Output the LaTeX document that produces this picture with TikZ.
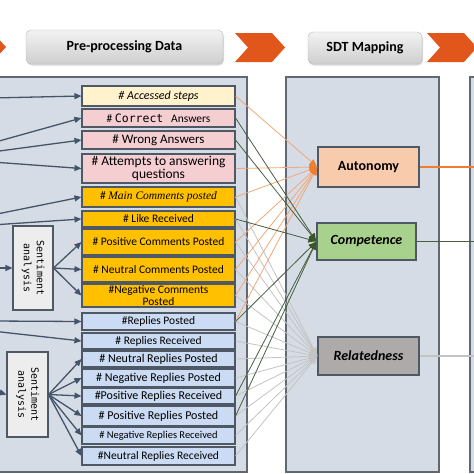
\documentclass[tikz,border=0pt]{standalone}
\usepackage{fontspec}
\usepackage{graphicx}
\setmainfont{Carlito}
\newfontfamily\monof{DejaVu Sans Mono}
\newfontfamily\timesf{Liberation Serif}
\usetikzlibrary{arrows.meta,shadows}

\definecolor{panelfill}{HTML}{D6DCE5}
\definecolor{panelline}{HTML}{5F6873}
\definecolor{boxline}{HTML}{4F5966}
\definecolor{chev}{HTML}{E0561B}
\definecolor{accfill}{HTML}{FFF2CC}
\definecolor{ansfill}{HTML}{F5CED2}
\definecolor{comfill}{HTML}{FFC000}
\definecolor{repfill}{HTML}{CADBF3}
\definecolor{sentfill}{HTML}{EDEDED}
\definecolor{autfill}{HTML}{F8CBAD}
\definecolor{cmpfill}{HTML}{A9D18E}
\definecolor{relfill}{HTML}{AEAAAA}
\definecolor{arrowdark}{HTML}{44546A}
\definecolor{orline}{HTML}{F2A878}
\definecolor{ortip}{HTML}{ED7D31}
\definecolor{grline}{HTML}{46603E}
\definecolor{grtip}{HTML}{385723}
\definecolor{gyline}{HTML}{C3C3C3}

\tikzset{
  panel/.style={draw=panelline, line width=1.6pt, fill=panelfill},
  headbox/.style={draw=gray!55, rounded corners=5pt, top color=gray!10, bottom color=gray!38,
    drop shadow={shadow xshift=1pt, shadow yshift=-1.5pt, opacity=.3},
    inner sep=0pt, font=\fontsize{14}{16}\selectfont\bfseries},
  chevron/.style={fill=chev},
  featbox/.style={draw=boxline, line width=1.1pt, minimum width=153pt, inner sep=0pt,
    align=center, font=\fontsize{11.5}{12}\selectfont},
  sentbox/.style={draw=boxline, line width=1.1pt, fill=sentfill, inner sep=0pt,
    font=\fontsize{10}{13}\selectfont\monof},
  sdtbox/.style={draw=boxline, line width=1.2pt, inner sep=0pt, font=\fontsize{14}{16}\selectfont\bfseries},
  inarrow/.style={draw=arrowdark, line width=1.3pt, -{Triangle[length=7pt,width=6pt]}},
  toaut/.style={draw=orline, line width=0.8pt, -{Latex[length=8pt,width=7pt,color=ortip]}},
  tocmp/.style={draw=grline, line width=0.8pt, -{Latex[length=8pt,width=7pt,color=grtip]}},
  torel/.style={draw=gyline, line width=0.8pt, -{Latex[length=8pt,width=7pt,color=gyline]}},
  outline/.style={line width=1.1pt},
}

\begin{document}
\begin{tikzpicture}[x=1pt,y=-1pt]
  \useasboundingbox (0,0) rectangle (474,474);
  %%%%% HEADER %%%%%
  \fill[chevron] (-20,33) -- (-7,33) -- (6,47) -- (-7,61) -- (-20,61) -- cycle;
  \node[headbox, minimum width=197pt, minimum height=34pt] (pre) at (124.5,47) {Pre-processing Data};
  \fill[chevron] (235,33) -- (272,33) -- (285,47.5) -- (272,62) -- (235,62) -- (248,47.5) -- cycle;
  \node[headbox, minimum width=114pt, minimum height=32pt] (sdt) at (365,48) {SDT Mapping};
  \fill[chevron] (427,33) -- (464,33) -- (477,47.5) -- (464,62) -- (427,62) -- (440,47.5) -- cycle;

  %%%%% PANELS %%%%%
  \draw[panel] (-10,77) rectangle (247,472);
  \draw[panel] (286,77) rectangle (439,472);
  \draw[panel] (470,77) rectangle (490,472);

  %%%%% SDT NODES %%%%%
  \node[sdtbox, fill=autfill, minimum width=101pt, minimum height=40pt] (aut) at (368.5,167) {Autonomy};
  \node[sdtbox, fill=cmpfill, minimum width=99pt, minimum height=37pt] (cmp) at (366.5,241.5) {\itshape Competence};
  \node[sdtbox, fill=relfill, minimum width=101pt, minimum height=38pt] (rel) at (368.5,356) {\itshape Relatedness};

  %%%%% FEATURES %%%%%
  \node[featbox, fill=accfill, minimum height=20pt, font=\fontsize{12}{12}\selectfont] (acc) at (158.5,96) {\itshape \# Accessed steps};
  \node[featbox, fill=ansfill, minimum height=18pt] (cor) at (158.5,118) {\# {\monof Correct}\;\, Answers};
  \node[featbox, fill=ansfill, minimum height=18pt, font=\fontsize{13}{14}\selectfont] (wro) at (158.5,140) {\# Wrong Answers};
  \node[featbox, fill=ansfill, minimum height=29pt, font=\fontsize{13.5}{13}\selectfont] (att) at (158.5,168.5) {\# Attempts to answering\\questions};
  \node[featbox, fill=comfill, minimum height=20pt] (mai) at (158.5,197) {\# {\timesf\itshape Main Comments posted}};
  \node[featbox, fill=comfill, minimum height=16pt] (lik) at (158.5,219) {\# Like Received};
  \node[featbox, fill=comfill, minimum height=26pt] (pco) at (158.5,242) {\# Positive Comments Posted};
  \node[featbox, fill=comfill, minimum height=25pt] (nco) at (158.5,269.5) {\# Neutral Comments Posted};
  \node[featbox, fill=comfill, minimum height=23pt] (gco) at (158.5,295.5) {\#Negative Comments\\Posted};
  \node[featbox, fill=repfill, minimum height=17pt] (rpo) at (158.5,321.5) {\#Replies Posted};
  \node[featbox, fill=repfill, minimum height=16pt] (rre) at (158.5,341) {\# Replies Received};
  \node[featbox, fill=repfill, minimum height=16pt, font=\fontsize{12}{12}\selectfont] (nrp) at (158.5,359) {\# Neutral Replies Posted};
  \node[featbox, fill=repfill, minimum height=18pt, font=\fontsize{12}{12}\selectfont] (grp) at (158.5,378) {\# Negative Replies Posted};
  \node[featbox, fill=repfill, minimum height=16pt, font=\fontsize{12}{12}\selectfont] (prr) at (158.5,396) {\#Positive Replies Received};
  \node[featbox, fill=repfill, minimum height=20pt, font=\fontsize{12}{12}\selectfont] (prp) at (158.5,416) {\# Positive Replies Posted};
  \node[featbox, fill=repfill, minimum height=17pt, font=\fontsize{10.5}{12}\selectfont] (grr) at (158.5,435.5) {\# Negative Replies Received};
  \node[featbox, fill=repfill, minimum height=18pt, font=\fontsize{11.5}{12}\selectfont] (nrr) at (158.5,456) {\#Neutral Replies Received};

  %%%%% SENTIMENT %%%%%
  \node[sentbox, minimum width=40pt, minimum height=84pt] (sen1) at (33,268)
    {\rotatebox{-90}{\begin{tabular}{@{}c@{}}Sentiment\\analysis\end{tabular}}};
  \node[sentbox, minimum width=41pt, minimum height=85pt] (sen2) at (27.5,394.5)
    {\rotatebox{-90}{\begin{tabular}{@{}c@{}}Sentiment\\analysis\end{tabular}}};

  %%%%% INPUT ARROWS %%%%%
  \foreach \n/\y/\t in {i1/98/acc, i2/143/cor, i3/152/wro, i4/162/att, i5/215/mai,
      i6/225/lik, i7/268/sen1, i8/321/rpo, i9/331/rre, i10/390/sen2} {
    \coordinate (\n) at (-8,\y);
    \draw[inarrow] (\n) -- (\t.west);
  }
  \foreach \t in {pco,nco,gco}
    \draw[inarrow] (sen1.east) -- (\t.west);
  \foreach \t in {nrp,grp,prr,prp,grr,nrr}
    \draw[inarrow] (sen2.east) -- (\t.west);

  %%%%% MAPPING %%%%%
  \foreach \s in {mai,lik,pco,nco,gco,rpo,rre,nrp,grp,prr,prp,grr,nrr}
    \draw[torel] (\s.east) -- (rel.west);
  \foreach \s in {acc,att,mai,pco,nco,gco,rpo}
    \draw[toaut] (\s.east) -- (aut.west);
  \foreach \s in {cor,wro,lik,rpo,prr,prp}
    \draw[tocmp] (\s.east) -- (cmp.west);

  %%%%% OUTPUTS %%%%%
  \coordinate (o1) at (480,167);
  \coordinate (o2) at (480,241.5);
  \coordinate (o3) at (480,356);
  \draw[outline, draw=ortip] (aut.east) -- (o1);
  \draw[outline, draw=grline] (cmp.east) -- (o2);
  \draw[outline, draw=gyline] (rel.east) -- (o3);
\end{tikzpicture}
\end{document}
